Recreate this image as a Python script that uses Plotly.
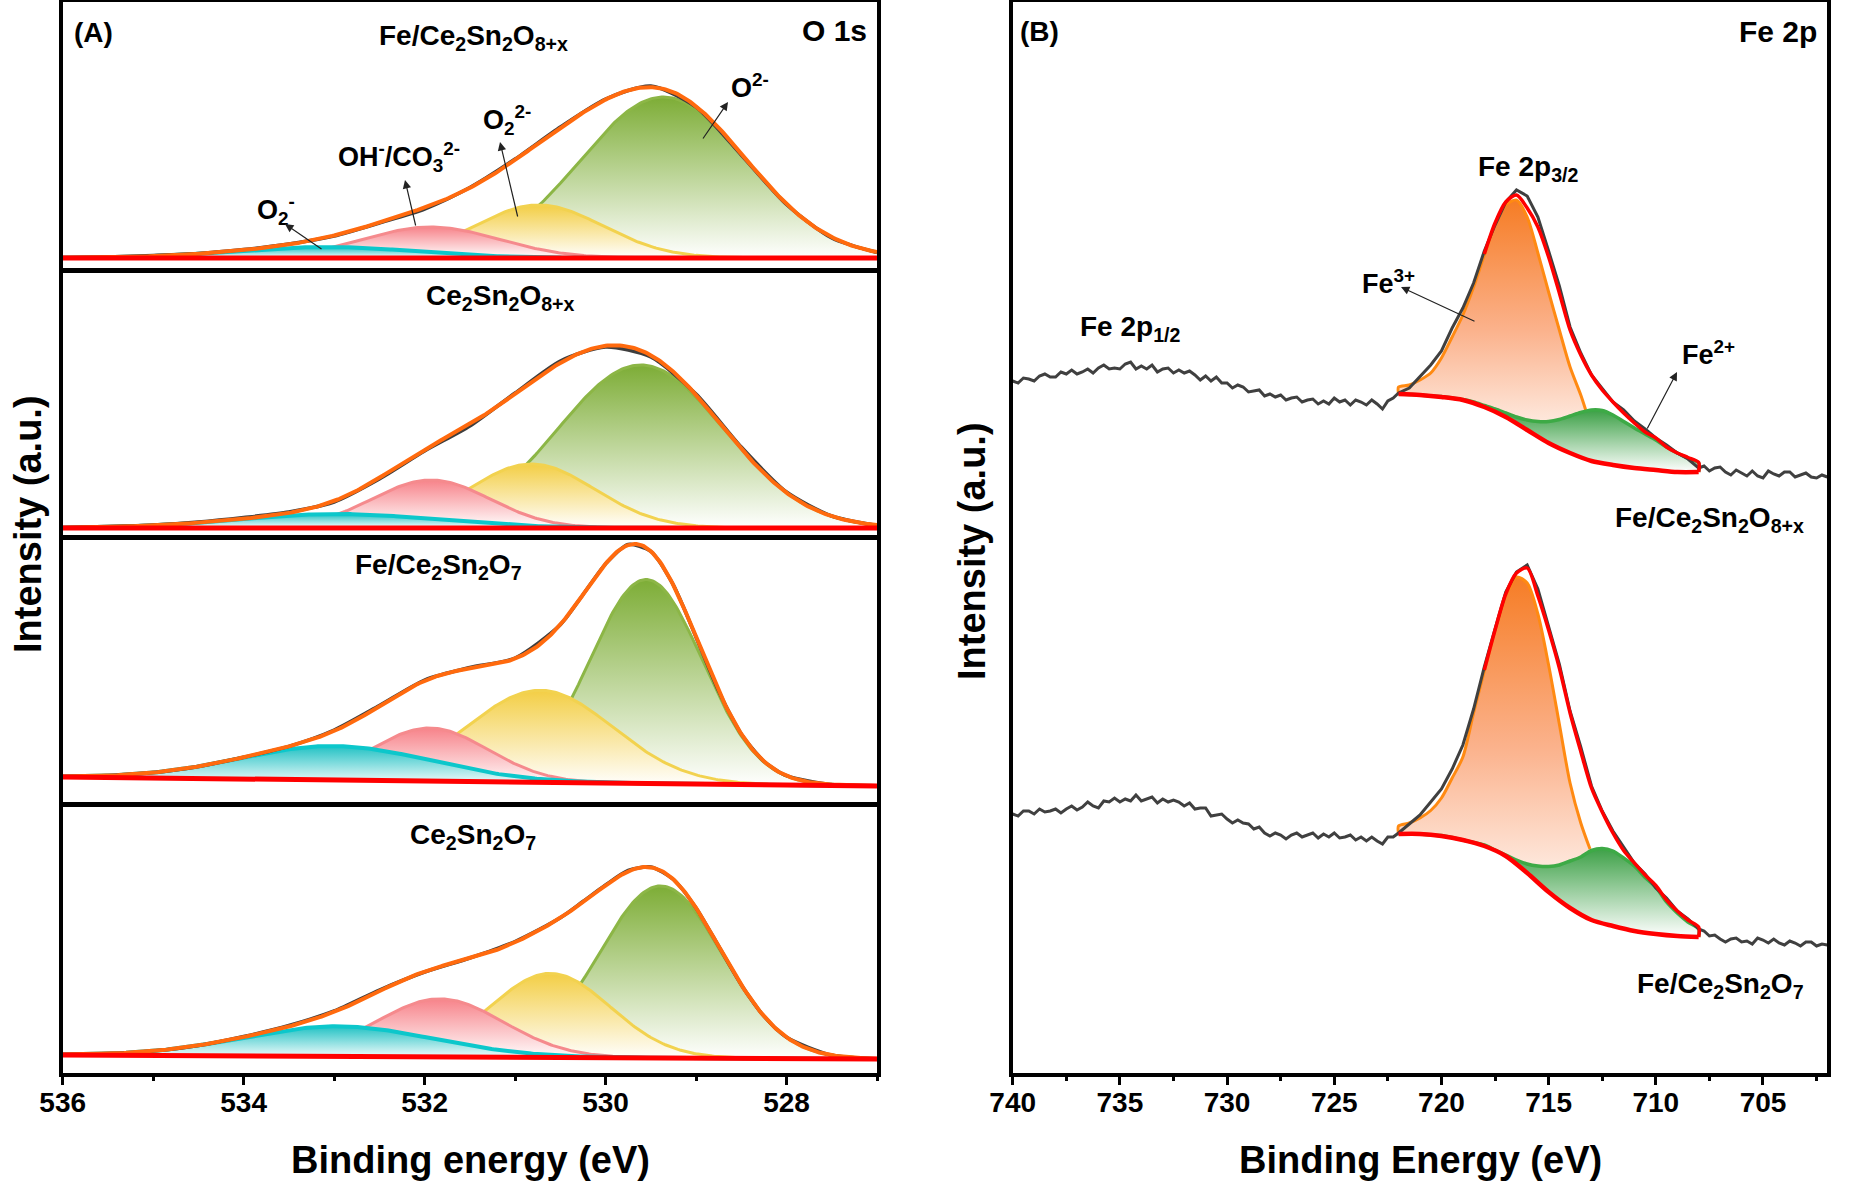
import numpy as np
import plotly.graph_objects as go

W, H = 1854, 1183
FONT = "Liberation Sans, Arial, Helvetica, sans-serif"

# ======================= (A) O 1s =======================
O1S_SAMPLES = ["Fe/Ce<sub>2</sub>Sn<sub>2</sub>O<sub>8+x</sub>",
               "Ce<sub>2</sub>Sn<sub>2</sub>O<sub>8+x</sub>",
               "Fe/Ce<sub>2</sub>Sn<sub>2</sub>O<sub>7</sub>",
               "Ce<sub>2</sub>Sn<sub>2</sub>O<sub>7</sub>"]
O1S_RANGE = [536, 527]

# background (a.u.) at 536 eV and 527 eV for each spectrum (top -> bottom)
BASELINE_AT_536 = [12, 9, 27, 17]
BASELINE_AT_527 = [12, 9, 18, 13]

# Fitted components: centre (eV), height above background (a.u.), sigma (eV)
LATTICE_CENTER = [529.36, 529.61, 529.55, 529.39]      # O2-
LATTICE_HEIGHT = [161, 163, 204, 172]
LATTICE_SIGMA = [0.92, 0.92, 0.62, 0.68]
PEROXIDE_CENTER = [530.74, 530.82, 530.72, 530.61]     # O2^2-
PEROXIDE_HEIGHT = [53, 64, 92, 84]
PEROXIDE_SIGMA = [0.71, 0.70, 0.80, 0.66]
HYDROXYL_CENTER = [531.93, 531.93, 531.94, 531.83]     # OH-/CO3^2-
HYDROXYL_HEIGHT = [31, 48, 53, 58]
HYDROXYL_SIGMA = [0.75, 0.65, 0.64, 0.70]
SUPEROXIDE_CENTER = [533.09, 532.96, 532.99, 532.96]   # O2-
SUPEROXIDE_HEIGHT = [11, 14, 34, 30]
SUPEROXIDE_SIGMA = [1.00, 1.10, 1.05, 1.05]

# Measured O 1s spectra
RAW_E_COARSE = [536, 535.5, 535, 534.5, 534, 533.5, 533, 532.5, 532, 531.5, 531,
                530.5, 530, 529.5, 529, 528.5, 528, 527.5, 527]
RAW_E_FINE = [536, 535.5, 535, 534.5, 534, 533.5, 533, 532.5, 532, 531.5, 531, 530.5,
              530.25, 530, 529.75, 529.5, 529.25, 529, 528.75, 528.5, 528.25, 528, 527.5, 527]
RAW_O1S_FE_CSO8X = [12.5, 13, 14.5, 16.5, 20.5, 26, 34, 47, 61, 82.5, 111, 143, 171, 184,
                    163, 115, 65.5, 32, 17.5]
RAW_O1S_CSO8X = [9.5, 10.5, 12, 15, 19.5, 25, 35, 58, 86, 111, 144, 176, 190, 180, 143, 90,
                 45, 21, 11.5]
RAW_O1S_FE_CSO7 = [27.6, 28.5, 31.4, 37.6, 46.7, 57.6, 74, 98.5, 124, 136.5, 146, 179.3,
                   209.3, 240.1, 259.5, 252.6, 218.8, 166.8, 112.9, 70.1, 42.7, 28.3, 19.4, 18.1]
RAW_O1S_CSO7 = [17.5, 18.4, 21.1, 26.5, 35.5, 46.5, 61, 82, 100, 114, 130.5, 154.2, 170.5,
                187, 201.5, 205, 192.5, 164.1, 125.8, 87.2, 55.8, 34.7, 16.8, 13.2]

# ======================= (B) Fe 2p =======================
FE_RANGE = [740, 702]
FE_RAW_E = ([740 - 0.25 * k for k in range(73)] + [721.5 - 0.5 * k for k in range(28)]
            + [707.75 - 0.25 * k for k in range(24)])
RAW_FE_UPPER = [
    691, 689, 694, 693, 691, 696, 698, 695, 695, 700, 698, 702, 698, 700, 703, 699, 704, 707,
    703, 704, 703, 708, 710, 703, 706, 703, 707, 700, 703, 704, 699, 702, 699, 701, 697, 692,
    696, 691, 695, 689, 689, 684, 687, 685, 680, 681, 682, 676, 678, 675, 677, 672, 674, 675,
    670, 672, 673, 668, 671, 668, 674, 670, 672, 667, 672, 670, 667, 672, 668, 663, 671, 674,
    679,
    684, 695, 707, 721, 744, 764, 789, 821, 847, 870, 882, 876, 855, 821, 786, 745, 719, 697,
    684, 670, 662, 651, 643, 634, 627, 619, 613, 604,
    606, 601, 604, 605, 600, 597, 602, 599, 596, 601, 596, 594, 601, 598, 596, 600, 600, 595,
    597, 599, 595, 594, 597, 595]
RAW_FE_LOWER = [
    258, 256, 261, 261, 258, 263, 260, 261, 263, 259, 263, 266, 262, 265, 270, 266, 264, 271,
    270, 274, 270, 273, 271, 277, 271, 273, 275, 269, 273, 270, 272, 270, 266, 269, 263, 264,
    264, 256, 257, 258, 253, 249, 252, 249, 248, 243, 245, 239, 236, 239, 237, 233, 237, 239,
    235, 237, 239, 234, 238, 235, 239, 234, 235, 237, 232, 235, 231, 235, 231, 228, 235, 235,
    239,
    248, 257, 270, 283, 303, 327, 363, 405, 443, 480, 500, 507, 483, 446, 408, 361, 325, 286,
    261, 241, 225, 209, 198, 184, 174, 161, 153, 143,
    141, 136, 137, 133, 130, 133, 134, 130, 131, 128, 134, 132, 129, 133, 129, 127, 131, 129,
    126, 130, 130, 126, 128, 127]

FE_BG_E = [722, 721, 720, 719, 718, 717, 716, 715, 714, 713, 712, 711, 710, 709, 708]
BG_UPPER = [678, 677, 675, 672, 665, 655, 642, 629, 619, 611, 607, 604, 602, 600, 600]
BG_LOWER = [238, 238, 236, 232, 226, 216, 199, 180, 164, 152, 146, 141, 138, 136, 135]

FE3_E_UPPER = [722, 722, 721.5, 721, 720.5, 720, 719.5, 719, 718.5, 718, 717.5, 717, 716.5,
               716, 715.5, 715, 714.5, 714, 713.5, 713.27]
FE3_UPPER = [678, 685, 687, 692, 699, 714, 735, 757, 785, 817, 847, 867, 872, 855, 819, 780,
             742, 705, 677, 662]
FE3_E_LOWER = [722, 722, 721.5, 721, 720.5, 720, 719.5, 719, 718.5, 718, 717.5, 717, 716.5,
               716, 715.5, 715, 714.5, 714, 713.5, 713.07]
FE3_LOWER = [238, 246, 249, 254, 261.5, 274, 294, 315, 359, 401, 441, 476, 495, 489, 458,
             407, 348, 289, 249, 223]

FE_FIT_E = [722 - 0.5 * k for k in range(29)] + [708]
FE2_UPPER = [678, 677.5, 677, 676, 675.5, 674, 672.5, 670, 666.5, 663, 659, 655, 652, 650.5,
             650.5, 652.5, 656, 659.5, 662, 661.5, 657, 650.5, 644, 638, 632, 625, 619, 614,
             609, 600]
FE2_LOWER = [238, 238, 238, 237, 236.5, 234.5, 232, 229.5, 227, 222, 217, 212, 208, 206,
             205.5, 207, 211, 215, 221.5, 223.5, 221, 214, 206, 194.5, 185, 170, 159, 150,
             143, 135]
ENV_E = [718 - 0.5 * k for k in range(21)] + [708]
ENV_UPPER = [818, 849, 870, 877, 864, 845, 815, 779, 742, 717, 697, 682, 670, 659, 649, 640,
             634, 625, 619, 614.5, 609.5, 600]
ENV_LOWER = [402, 442, 478, 499, 504, 476, 442, 404, 359, 320.5, 284, 260, 239, 221.5, 209,
             197, 186.5, 172, 161, 152, 145, 135]

# ======================= figure =======================
def px_x(px):
    return px / W


def px_y(py):
    return 1 - py / H


fig = go.Figure()
E = np.linspace(536, 527, 451)
RAW_SETS = [(RAW_E_COARSE, RAW_O1S_FE_CSO8X), (RAW_E_COARSE, RAW_O1S_CSO8X),
            (RAW_E_FINE, RAW_O1S_FE_CSO7), (RAW_E_FINE, RAW_O1S_CSO7)]
COMPONENTS = [
    (LATTICE_CENTER, LATTICE_HEIGHT, LATTICE_SIGMA, '#8CB646', '#7DAD36', 3),
    (PEROXIDE_CENTER, PEROXIDE_HEIGHT, PEROXIDE_SIGMA, '#F2D24F', '#F3CE45', 3),
    (HYDROXYL_CENTER, HYDROXYL_HEIGHT, HYDROXYL_SIGMA, '#F58A8D', '#F7838A', 3),
    (SUPEROXIDE_CENTER, SUPEROXIDE_HEIGHT, SUPEROXIDE_SIGMA, '#0CC7CB', '#22C2C4', 4),
]


def ids(i):
    return ('x' if i == 0 else f'x{i + 1}', 'y' if i == 0 else f'y{i + 1}')


for i in range(4):
    xa, ya = ids(i)
    b0, b1 = BASELINE_AT_536[i], BASELINE_AT_527[i]
    base = b0 + (b1 - b0) * (536 - E) / 9.0
    total = base.copy()
    for centers, heights, sigmas, lc, fc, lw in COMPONENTS:
        g = heights[i] * np.exp(-(E - centers[i]) ** 2 / (2 * sigmas[i] ** 2))
        total = total + g
        fig.add_trace(go.Scatter(x=[536, 527], y=[b0, b1], mode='lines',
                                 line=dict(width=0, color='rgba(0,0,0,0)'),
                                 xaxis=xa, yaxis=ya, hoverinfo='skip', showlegend=False))
        fig.add_trace(go.Scatter(x=E, y=base + g, mode='lines', line=dict(color=lc, width=lw),
                                 fill='tonexty',
                                 fillgradient=dict(type='vertical',
                                                   colorscale=[[0, 'rgb(255,255,255)'], [1, fc]]),
                                 xaxis=xa, yaxis=ya, hoverinfo='skip', showlegend=False))
    rx, ry = RAW_SETS[i]
    fig.add_trace(go.Scatter(x=rx, y=ry, mode='lines',
                             line=dict(color='#3E3E3E', width=3.5, shape='spline', smoothing=0.7),
                             xaxis=xa, yaxis=ya, hoverinfo='skip', showlegend=False))
    fig.add_trace(go.Scatter(x=E, y=total, mode='lines', line=dict(color='#FF6A0E', width=4),
                             xaxis=xa, yaxis=ya, hoverinfo='skip', showlegend=False))
    fig.add_trace(go.Scatter(x=[536, 527], y=[b0, b1], mode='lines',
                             line=dict(color='#FF0000', width=5),
                             xaxis=xa, yaxis=ya, hoverinfo='skip', showlegend=False))

# ---- Fe 2p ----
XB, YB = 'x5', 'y5'
SPL = dict(shape='spline', smoothing=0.8)
for bg, fe3e, fe3, fe2, env, raw, ostart, ostop, gstart, gstop in [
        (BG_UPPER, FE3_E_UPPER, FE3_UPPER, FE2_UPPER, ENV_UPPER, RAW_FE_UPPER, 611, 872, 600, 662),
        (BG_LOWER, FE3_E_LOWER, FE3_LOWER, FE2_LOWER, ENV_LOWER, RAW_FE_LOWER, 152, 497, 135, 224)]:
    nb = 10  # background points from 722 to 713 eV
    fig.add_trace(go.Scatter(x=FE_BG_E[:nb], y=bg[:nb], mode='lines',
                             line=dict(width=0, color='rgba(0,0,0,0)', **SPL),
                             xaxis=XB, yaxis=YB, hoverinfo='skip', showlegend=False))
    fig.add_trace(go.Scatter(x=fe3e, y=fe3, mode='lines', line=dict(color='#FF8A12', width=3, **SPL),
                             fill='tonexty',
                             fillgradient=dict(type='vertical', start=ostart, stop=ostop,
                                               colorscale=[[0, 'rgb(255,255,255)'],
                                                           [0.5, 'rgb(251,178,140)'],
                                                           [1, 'rgb(246,124,36)']]),
                             xaxis=XB, yaxis=YB, hoverinfo='skip', showlegend=False))
    fig.add_trace(go.Scatter(x=FE_BG_E, y=bg, mode='lines',
                             line=dict(width=0, color='rgba(0,0,0,0)', **SPL),
                             xaxis=XB, yaxis=YB, hoverinfo='skip', showlegend=False))
    fig.add_trace(go.Scatter(x=FE_FIT_E, y=fe2, mode='lines', line=dict(color='#3DAA46', width=3.5, **SPL),
                             fill='tonexty',
                             fillgradient=dict(type='vertical', start=gstart, stop=gstop,
                                               colorscale=[[0, 'rgb(255,255,255)'], [1, 'rgb(60,160,70)']]),
                             xaxis=XB, yaxis=YB, hoverinfo='skip', showlegend=False))
    fig.add_trace(go.Scatter(x=FE_RAW_E, y=raw, mode='lines', line=dict(color='#404040', width=3),
                             xaxis=XB, yaxis=YB, hoverinfo='skip', showlegend=False))
    fig.add_trace(go.Scatter(x=ENV_E, y=env, mode='lines', line=dict(color='#FF0000', width=3.5, **SPL),
                             xaxis=XB, yaxis=YB, hoverinfo='skip', showlegend=False))
    fig.add_trace(go.Scatter(x=FE_BG_E, y=bg, mode='lines', line=dict(color='#FF0000', width=4.5, **SPL),
                             xaxis=XB, yaxis=YB, hoverinfo='skip', showlegend=False))

# ---- axes ----
TICKFONT = dict(family=FONT, size=28, color='black', weight='bold')
XA = [px_x(62.7), px_x(877)]
XBD = [px_x(1012.7), px_x(1827.3)]
panel_px = [(2, 268.5), (271.5, 535.5), (538.5, 802.5), (805.5, 1072.5)]
panel_rng = [[1.5, 268], [1.5, 265.5], [1.5, 265.5], [-0.5, 266.5]]
layout = dict(width=W, height=H, margin=dict(l=0, r=0, t=0, b=0, autoexpand=False),
              paper_bgcolor='white', plot_bgcolor='white', showlegend=False)
for i in range(4):
    top, bot = panel_px[i]
    xk = 'xaxis' if i == 0 else f'xaxis{i + 1}'
    yk = 'yaxis' if i == 0 else f'yaxis{i + 1}'
    xd = dict(domain=XA, range=O1S_RANGE, showline=True, linewidth=3.5, linecolor='black',
              mirror=True, showgrid=False, zeroline=False, anchor=ids(i)[1], automargin=False)
    if i == 3:
        xd.update(ticks='outside', ticklen=9, tickwidth=3, tickcolor='black', dtick=2, tick0=536,
                  tickfont=TICKFONT, ticklabelstandoff=-7,
                  minor=dict(dtick=1, ticks='outside', ticklen=5, tickwidth=3,
                             tickcolor='black'))
    else:
        xd.update(showticklabels=False, ticks='')
    layout[xk] = xd
    layout[yk] = dict(domain=[px_y(bot), px_y(top)], range=panel_rng[i], showline=True,
                      linewidth=3.5, linecolor='black', mirror=True, showgrid=False,
                      zeroline=False, showticklabels=False, ticks='', anchor=ids(i)[0],
                      automargin=False)
layout['xaxis5'] = dict(domain=XBD, range=FE_RANGE, showline=True, linewidth=3.5,
                        linecolor='black', mirror=True, showgrid=False, zeroline=False,
                        anchor='y5', automargin=False,
                        ticks='outside', ticklen=9, tickwidth=3, tickcolor='black', dtick=5,
                        tick0=740, tickfont=TICKFONT, ticklabelstandoff=-7,
                        minor=dict(dtick=2.5, ticks='outside', ticklen=5, tickwidth=3,
                                   tickcolor='black'))
layout['yaxis5'] = dict(domain=[px_y(1072.5), px_y(2)], range=[-0.5, 1070], showline=True,
                        linewidth=3.5, linecolor='black', mirror=True, showgrid=False,
                        zeroline=False, showticklabels=False, ticks='', anchor='x5',
                        automargin=False)
fig.update_layout(**layout)


# ---- text ----
def label(text, cx, cy, size=28, xanchor='center', angle=0):
    fig.add_annotation(text=text, x=px_x(cx), y=px_y(cy), xref='paper', yref='paper',
                       xanchor=xanchor, yanchor='middle', showarrow=False, textangle=angle,
                       font=dict(family=FONT, size=size, color='black', weight='bold'))


def arrow(hx, hy, tx, ty):
    fig.add_annotation(text='', x=px_x(hx), y=px_y(hy), xref='paper', yref='paper',
                       ax=tx - hx, ay=ty - hy, showarrow=True, arrowhead=2, arrowsize=1.4,
                       arrowwidth=1.2, arrowcolor='#222222', standoff=0, startstandoff=0)


label('(A)', 93, 33)
label('O 1s', 869, 31, size=30, xanchor='right')
for txt, cx, cy in zip(O1S_SAMPLES, [473, 500, 438, 473], [37, 297, 566, 836]):
    label(txt, cx, cy)
label('O<sup>2-</sup>', 750, 86, size=27)
label('O<sub>2</sub><sup>2-</sup>', 507, 120, size=27)
label('OH<sup>-</sup>/CO<sub>3</sub><sup>2-</sup>', 399, 157, size=27)
label('O<sub>2</sub><sup>-</sup>', 276, 210, size=27)
arrow(728, 102, 702, 140)
arrow(500, 142, 518, 218)
arrow(405, 180, 416, 227)
arrow(285, 224, 323, 250)

label('(B)', 1039, 32)
label('Fe 2p', 1819, 32, size=30, xanchor='right')
label('Fe 2p<sub>3/2</sub>', 1528, 168)
label('Fe 2p<sub>1/2</sub>', 1130, 328)
label('Fe<sup>3+</sup>', 1388, 282, size=27)
label('Fe<sup>2+</sup>', 1708, 353, size=27)
label('Fe/Ce<sub>2</sub>Sn<sub>2</sub>O<sub>8+x</sub>', 1709, 519)
label('Fe/Ce<sub>2</sub>Sn<sub>2</sub>O<sub>7</sub>', 1720, 985)
arrow(1401, 287, 1476, 322)
arrow(1677, 372, 1646.5, 430)

label('Binding energy (eV)', 470, 1160, size=38)
label('Binding Energy (eV)', 1420, 1160, size=38)
label('Intensity (a.u.)', 28, 524, size=38, angle=-90)
label('Intensity (a.u.)', 972, 551, size=38, angle=-90)

fig.write_html("out.html")
